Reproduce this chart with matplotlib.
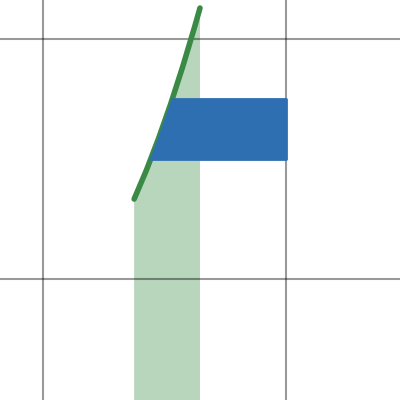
import numpy as np
import matplotlib
matplotlib.use("Agg")
import matplotlib.pyplot as plt

# curve (data units, grid lines at 1 and 2)
curve_x = [1.375, 1.425, 1.475, 1.525, 1.575, 1.625, 1.646]
curve_y = [1.333, 1.452, 1.584, 1.728, 1.885, 2.054, 2.129]

# horizontal band (y range) that runs from the curve out to x = 2
band_y = [1.5, 1.75]
band_right = 2.0

grid_ticks = [1, 2]

fig = plt.figure(figsize=(4, 4), dpi=100)
ax = fig.add_axes([0, 0, 1, 1])

# light area under the curve
ax.fill_between(curve_x, curve_y, 0, color="#b8d6bc", linewidth=0, zorder=1)

# curve
ax.plot(curve_x, curve_y, color="#3a8a45", linewidth=4,
        solid_capstyle="round", zorder=3)

# blue band: left edge follows the curve
cx = np.array(curve_x)
cy = np.array(curve_y)
inner = cy[(cy > band_y[0]) & (cy < band_y[1])]
ys = np.concatenate([[band_y[0]], inner, [band_y[1]]])
xs = np.interp(ys, cy, cx)
ax.fill_betweenx(ys, xs, band_right, color="#2e6fb2", edgecolor="#2e6fb2",
                 linewidth=2, joinstyle="round", zorder=4)

ax.set_xlim(1 - 43 / 243, 1 + 357 / 243)
ax.set_ylim(1 - 121 / 240, 2 + 39 / 240)
ax.set_xticks(grid_ticks)
ax.set_yticks(grid_ticks)
ax.tick_params(length=0, labelbottom=False, labelleft=False)
for s in ax.spines.values():
    s.set_visible(False)
ax.grid(True, color="black", alpha=0.4, linewidth=1.5, zorder=2)
ax.set_axisbelow(False)
for gl in ax.get_xgridlines() + ax.get_ygridlines():
    gl.set_zorder(2)

fig.savefig("out.png", dpi=100)
